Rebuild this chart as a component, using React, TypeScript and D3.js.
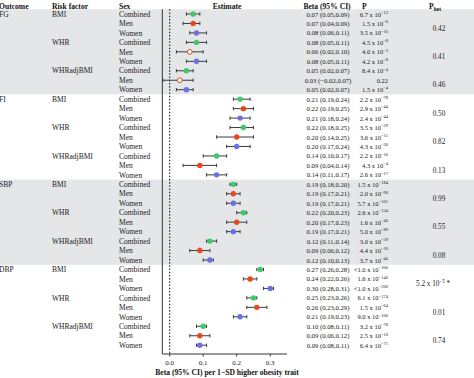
import React from "react";
import * as d3 from "d3";

const outcomes = ["FG", "FI", "SBP", "DBP"];
const riskFactors = ["BMI", "WHR", "WHRadjBMI"];
const sexes = ["Combined", "Men", "Women"];

const beta = [
  0.07, 0.07, 0.08, 0.08, 0.06, 0.08, 0.05, 0.03, 0.05,
  0.21, 0.22, 0.21, 0.22, 0.2, 0.2, 0.14, 0.09, 0.14,
  0.19, 0.19, 0.19, 0.22, 0.2, 0.19, 0.12, 0.09, 0.12,
  0.27, 0.24, 0.3, 0.25, 0.26, 0.21, 0.1, 0.09, 0.09,
];
const lower = [
  0.05, 0.04, 0.06, 0.05, 0.02, 0.05, 0.02, -0.02, 0.02,
  0.19, 0.19, 0.18, 0.18, 0.14, 0.17, 0.1, 0.04, 0.11,
  0.18, 0.17, 0.17, 0.2, 0.17, 0.17, 0.11, 0.06, 0.1,
  0.26, 0.22, 0.28, 0.23, 0.23, 0.19, 0.08, 0.06, 0.08,
];
const upper = [
  0.09, 0.09, 0.11, 0.11, 0.1, 0.11, 0.07, 0.07, 0.07,
  0.24, 0.25, 0.24, 0.25, 0.25, 0.24, 0.17, 0.14, 0.17,
  0.2, 0.21, 0.21, 0.23, 0.23, 0.21, 0.14, 0.12, 0.13,
  0.28, 0.26, 0.31, 0.26, 0.29, 0.23, 0.11, 0.12, 0.11,
];
const pValues = [
  "6.7e-13", "1.5e-6", "3.5e-10", "4.5e-8", "4.0e-3", "4.2e-8", "8.4e-4", "0.22", "1.5e-4",
  "2.2e-78", "2.9e-44", "2.4e-44", "3.5e-29", "3.6e-11", "4.3e-26", "2.2e-16", "4.3e-4", "2.6e-17",
  "1.5e-184", "2.0e-90", "5.7e-101", "2.6e-134", "1.6e-40", "5.0e-89", "3.0e-59", "4.4e-10", "3.7e-46",
  "<1.0e-200", "1.6e-140", "<1.0e-200", "6.1e-174", "1.5e-64", "9.0e-100", "3.2e-76", "2.5e-10", "6.4e-71",
];
const pHet = ["0.42", "0.41", "0.46", "0.50", "0.82", "0.13", "0.99", "0.55", "0.08", "5.2e-5 *", "0.01", "0.74"];
const xTicks = [0, 0.1, 0.2, 0.3];

const sexColors = ["#3fc86c", "#e4491f", "#6d6fe4"];
const FONT = "'Liberation Serif', 'Times New Roman', serif";

const fmt = (v: number) => (v < 0 ? "\u2212" : "") + Math.abs(v).toFixed(2);

function PText({ s, x, y, size, anchor }: { s: string; x: number; y: number; size: number; anchor: string }) {
  const m = s.match(/^(<?)([\d.]+)e(-\d+)(.*)$/);
  if (!m) {
    return (
      <text x={x} y={y} fontSize={size} textAnchor={anchor}>
        {s}
      </text>
    );
  }
  const [, lt, mant, exp, rest] = m;
  return (
    <text x={x} y={y} fontSize={size} textAnchor={anchor}>
      {lt}
      {mant} x 10
      <tspan fontSize={size * 0.7} dy={-size * 0.42}>
        {exp.replace("-", "\u2212")}
      </tspan>
      {rest ? (
        <tspan dy={size * 0.42}>{"\u00a0" + rest.trim()}</tspan>
      ) : null}
    </text>
  );
}

export default function App() {
  const W = 474;
  const H = 378;
  const n = beta.length;
  const y = d3.scaleLinear().domain([0, n - 1]).range([14, 345.2]);
  const step = y(1) - y(0);
  const x = d3.scaleLinear().domain([-0.022, 0.35]).range([162.3, 287]);
  const axisY = 354;
  const plotTop = y(0) - step / 2;

  return (
    <svg
      width={W}
      height={H}
      style={{ position: "absolute", left: 0, top: 0 }}
      fontFamily={FONT}
    >
      <rect x={0} y={0} width={W} height={H} fill="#fff" />
      {outcomes.map((o, gi) =>
        gi % 2 === 0 ? (
          <rect
            key={o}
            x={0}
            y={y(gi * 9) - step / 2}
            width={W}
            height={step * 9}
            fill="#e4e6e8"
          />
        ) : null
      )}
      {/* headers */}
      <g fontWeight="bold" fontSize={7.6} fill="#111">
        <text x={-1} y={8.5}>Outcome</text>
        <text x={52} y={8.5}>Risk factor</text>
        <text x={119} y={8.5}>Sex</text>
        <text x={227} y={8.5} textAnchor="middle">Estimate</text>
        <text x={327} y={8.5} textAnchor="middle">Beta (95% CI)</text>
        <text x={362} y={8.5}>P</text>
        <text x={429} y={8.5}>
          P<tspan fontSize={5.5} dy={2}>het</tspan>
        </text>
      </g>
      {/* row labels */}
      <g fontSize={7.5} fill="#222">
        {beta.map((_, i) => {
          const gi = Math.floor(i / 9);
          const ri = Math.floor((i % 9) / 3);
          const si = i % 3;
          const yy = y(i) + 2.7;
          return (
            <g key={i}>
              {i % 9 === 0 ? <text x={-1} y={yy}>{outcomes[gi]}</text> : null}
              {si === 0 ? <text x={52} y={yy}>{riskFactors[ri]}</text> : null}
              <text x={119} y={yy}>{sexes[si]}</text>
            </g>
          );
        })}
      </g>
      {/* beta column */}
      <g fontSize={6.7} fill="#222">
        {beta.map((b, i) => (
          <text key={i} x={328} y={y(i) + 2.5} textAnchor="middle">
            {`${fmt(b)} (${fmt(lower[i])},${fmt(upper[i])})`}
          </text>
        ))}
      </g>
      {/* P column */}
      <g fill="#222">
        {pValues.map((p, i) => (
          <PText key={i} s={p} x={388} y={y(i) + 2.5} size={6.5} anchor="end" />
        ))}
      </g>
      {/* Phet */}
      <g fill="#222">
        {pHet.map((p, k) => (
          <PText
            key={k}
            s={p}
            x={p.includes("e") ? 416 : 439}
            y={y(k * 3 + 1.5) + 2.5}
            size={7.2}
            anchor={p.includes("e") ? "start" : "middle"}
          />
        ))}
      </g>
      {/* axes */}
      <line x1={x.range()[0]} x2={x.range()[0]} y1={plotTop} y2={axisY} stroke="#333" strokeWidth={1} />
      <line x1={x.range()[0]} x2={x.range()[1]} y1={axisY} y2={axisY} stroke="#333" strokeWidth={1} />
      <line
        x1={x(0)}
        x2={x(0)}
        y1={plotTop}
        y2={axisY}
        stroke="#222"
        strokeWidth={1.1}
        strokeDasharray="1.6,1.6"
      />
      {xTicks.map((t) => (
        <g key={t}>
          <line x1={x(t)} x2={x(t)} y1={axisY} y2={axisY + 2.5} stroke="#333" />
          <text x={x(t)} y={axisY + 10.5} fontSize={7} textAnchor="middle" fill="#222">
            {d3.format(".1f")(t)}
          </text>
        </g>
      ))}
      <text x={227} y={375} fontSize={7.6} fontWeight="bold" textAnchor="middle" fill="#111">
        Beta (95% CI) per 1{"\u2212"}SD higher obesity trait
      </text>
      {/* error bars and points */}
      {beta.map((b, i) => {
        const yy = y(i);
        const si = i % 3;
        const pv = pValues[i].replace("<", "");
        const open = parseFloat(pv) > 0.001;
        return (
          <g key={i}>
            <line x1={x(lower[i])} x2={x(upper[i])} y1={yy} y2={yy} stroke="#3a3a3a" strokeWidth={1} />
            <line x1={x(lower[i])} x2={x(lower[i])} y1={yy - 1.7} y2={yy + 1.7} stroke="#3a3a3a" strokeWidth={1} />
            <line x1={x(upper[i])} x2={x(upper[i])} y1={yy - 1.7} y2={yy + 1.7} stroke="#3a3a3a" strokeWidth={1} />
            <circle
              cx={x(b)}
              cy={yy}
              r={open ? 2.4 : 2.7}
              fill={open ? "#fff" : sexColors[si]}
              stroke={sexColors[si]}
              strokeWidth={open ? 1 : 0}
            />
          </g>
        );
      })}
    </svg>
  );
}
